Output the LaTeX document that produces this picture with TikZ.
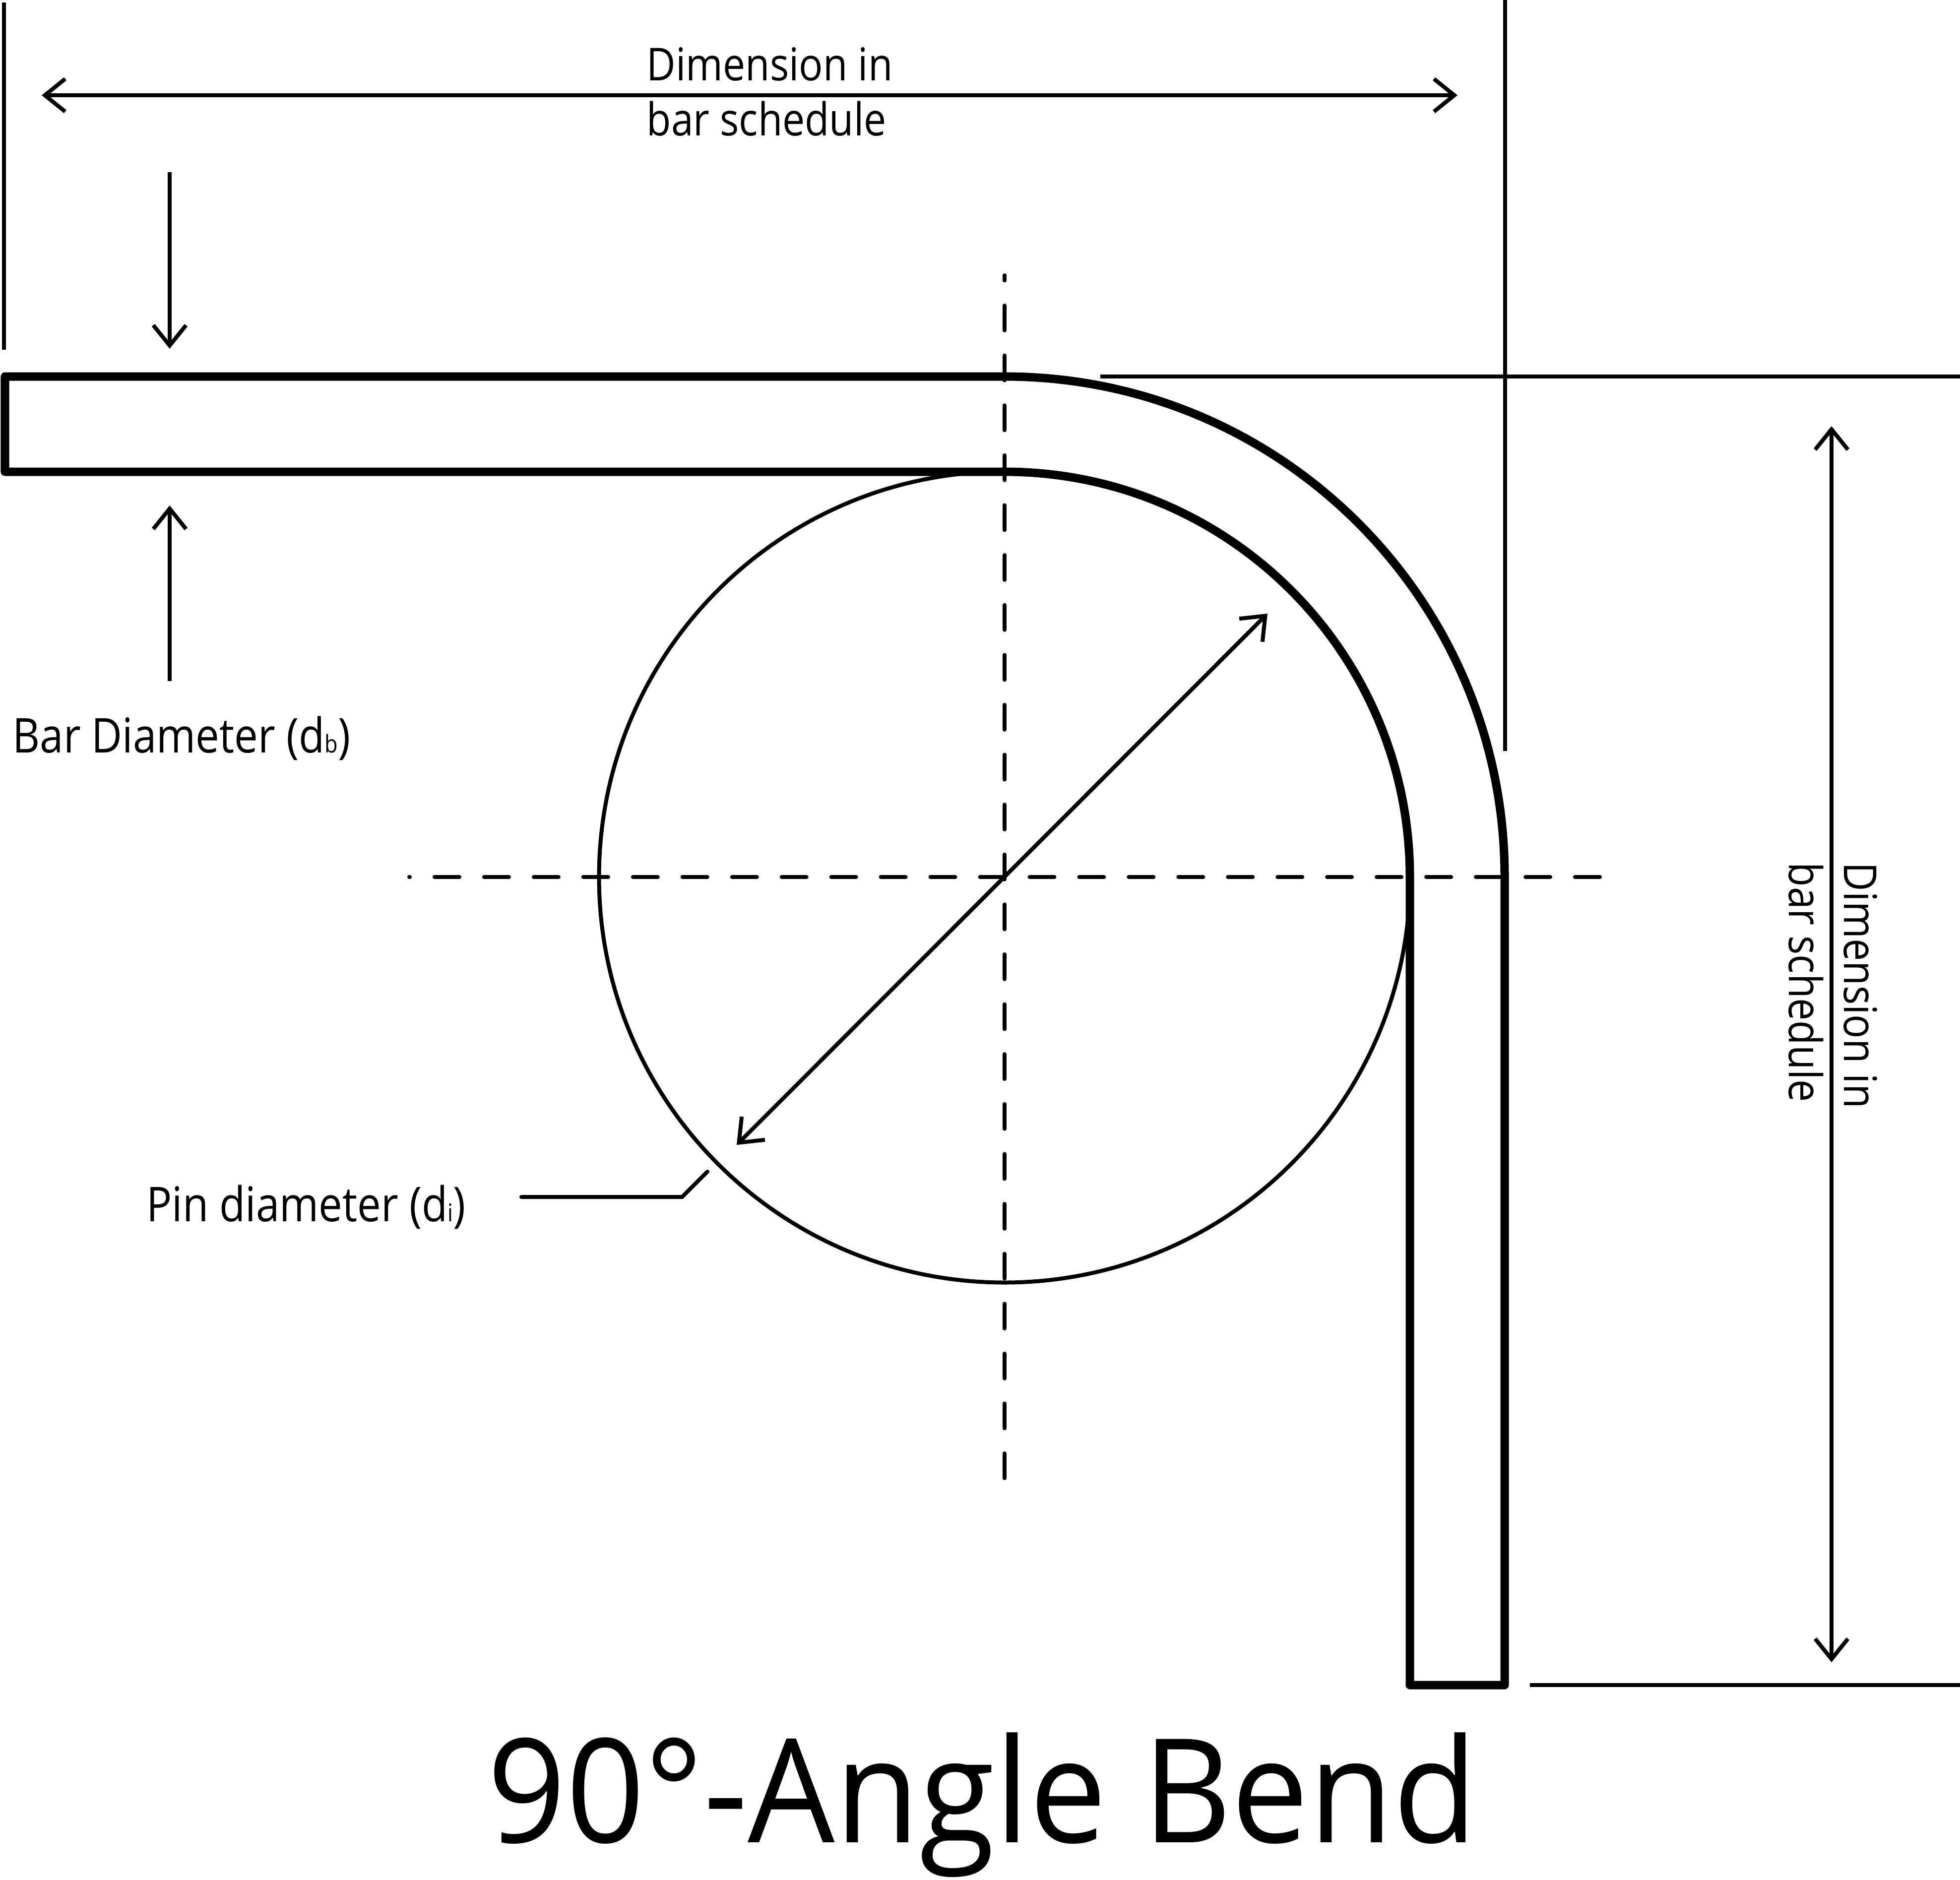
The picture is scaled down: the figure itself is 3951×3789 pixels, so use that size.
\documentclass[tikz,border=0pt]{standalone}
\usepackage{fontspec}
\setmainfont{Open Sans}[FakeStretch=0.88]
\newfontfamily\titlefont{Open Sans}[FakeStretch=0.95]
\newcommand{\lowidx}[1]{{\fontsize{14}{14}\selectfont #1}}
\usetikzlibrary{arrows.meta,positioning}

\begin{document}
\begin{tikzpicture}[x=0.01cm,y=0.01cm,
	bar/.style={draw,line width=0.17cm,line join=round},
	pin/.style={circle,draw,line width=0.08cm,inner sep=0pt,outer sep=0pt,minimum size=16.34cm},
	ext/.style={line width=0.08cm},
	paths/.style={line width=0.08cm,>={Straight Barb[length=0.41cm,width=0.66cm]}},
	centerh/.style={line width=0.08cm,line cap=round,dash pattern=on 0.5cm off 0.499cm},
	centerv/.style={line width=0.08cm,line cap=round,dash pattern=on 0.5cm off 0.5055cm},
	leader/.style={line width=0.08cm,line cap=round,line join=miter},
	dimtext/.style={inner sep=0pt,align=left,font=\fontsize{26}{31.6}\selectfont},
	label/.style={inner sep=0pt,anchor=base west,font=\fontsize{27.5}{31.6}\selectfont},
	heading/.style={inner sep=0pt,anchor=base west,font=\titlefont\fontsize{83}{90}\selectfont}
	]
\useasboundingbox (0,0) rectangle (3951,-3789);

\coordinate (o) at (2025,-1768);

% pin and bar
\node [pin] (pinc) at (o) {};
\draw [bar] (10,-759) -- (2025,-759) arc (90:0:1008) -- (3033,-3397) -- (2842,-3397)
	-- (2842,-1768) arc (0:90:817) -- (10,-951) -- cycle;

% center lines
\coordinate (h1) at (3225,-1768);
\coordinate (h2) at (825,-1768);
\coordinate (v1) at (2025,-2980);
\coordinate (v2) at (2025,-555);
\draw [centerh] (h1) -- (h2);
\draw [centerv] (v1) -- (v2);

% extension lines
\coordinate (e1) at (8,-5);
\coordinate (e2) at (8,-705);
\coordinate (e3) at (3034,0);
\coordinate (e4) at (3034,-1514);
\coordinate (e5) at (2218,-759);
\coordinate (e6) at (3951,-759);
\coordinate (e7) at (3084,-3397);
\coordinate (e8) at (3951,-3397);
\draw [ext] (e1) -- (e2);
\draw [ext] (e3) -- (e4);
\draw [ext] (e5) -- (e6);
\draw [ext] (e7) -- (e8);

% dimensions
\coordinate (a1) at (84,-192);
\coordinate (a2) at (2938,-192);
\coordinate (a3) at (342,-347);
\coordinate (a4) at (342,-703);
\coordinate (a5) at (342,-1373);
\coordinate (a6) at (342,-1019);
\coordinate (a7) at (3692,-859);
\coordinate (a8) at (3692,-3351);
\coordinate (a9) at (1485,-2308);
\coordinate (a10) at (2555,-1237);
\draw [paths,<->] (a1) -- (a2);
\draw [paths,->] (a3) -- (a4);
\draw [paths,->] (a5) -- (a6);
\draw [paths,<->] (a7) -- (a8);
\draw [paths,<->] (a9) -- (a10);

% pin label
\node [label] (lpin) at (295,-2462) {Pin diameter (d\lowidx{i})};
\coordinate (l1) at (1051,-2413);
\coordinate (l2) at (1375,-2413);
\coordinate (l3) at (1426,-2362);
\draw [leader] (l1) -- (l2) -- (l3);

% labels
\node [label] (lbar) at (25,-1517) {Bar Diameter (d\lowidx{b})};
\node [dimtext,anchor=west] (ltop) at (1303,-185) {Dimension in\\bar schedule};
\node [dimtext,anchor=west,rotate=-90] (lside) at (3695,-1738) {Dimension in\\bar schedule};
\node [heading] (title) at (982,-3714) {90°-Angle Bend};
\end{tikzpicture}
\end{document}
